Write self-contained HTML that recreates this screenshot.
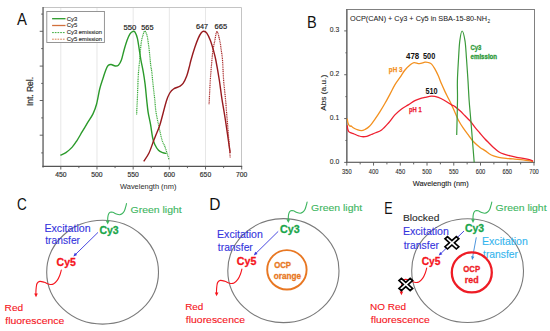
<!DOCTYPE html>
<html><head><meta charset="utf-8">
<style>
html,body{margin:0;padding:0;background:#fff;width:550px;height:331px;overflow:hidden}
svg{display:block}
text{font-family:"Liberation Sans",sans-serif}
</style></head>
<body>
<svg width="550" height="331" viewBox="0 0 550 331">
<rect width="550" height="331" fill="#fff"/>
<text transform="translate(17.20,24.80) scale(0.940,1)" x="-0.10" y="0" font-size="15.8" fill="#111">A</text>
<g stroke="#e4e4e4" stroke-width="0.9">
<line x1="60.80" y1="7.3" x2="60.80" y2="166.3"/>
<line x1="96.98" y1="7.3" x2="96.98" y2="166.3"/>
<line x1="133.16" y1="7.3" x2="133.16" y2="166.3"/>
<line x1="169.34" y1="7.3" x2="169.34" y2="166.3"/>
<line x1="205.52" y1="7.3" x2="205.52" y2="166.3"/>
</g>
<line x1="43" y1="7.5" x2="241.5" y2="7.5" stroke="#c4c4c4" stroke-width="1"/>
<line x1="241.5" y1="7.5" x2="241.5" y2="166.3" stroke="#c4c4c4" stroke-width="1"/>
<line x1="43.05" y1="6.9" x2="43.05" y2="167.5" stroke="#666" stroke-width="1.4"/>
<line x1="42.4" y1="166.3" x2="242.2" y2="166.3" stroke="#555" stroke-width="1.3"/>
<g stroke="#555" stroke-width="0.9">
<line x1="39.7" y1="31.3" x2="43" y2="31.3"/>
<line x1="39.7" y1="66.1" x2="43" y2="66.1"/>
<line x1="39.7" y1="100.5" x2="43" y2="100.5"/>
<line x1="39.7" y1="135.2" x2="43" y2="135.2"/>
<line x1="41.2" y1="14.1" x2="43" y2="14.1"/>
<line x1="41.2" y1="48.6" x2="43" y2="48.6"/>
<line x1="41.2" y1="83.4" x2="43" y2="83.4"/>
<line x1="41.2" y1="117.9" x2="43" y2="117.9"/>
<line x1="41.2" y1="152.9" x2="43" y2="152.9"/>
<line x1="60.80" y1="166.3" x2="60.80" y2="169.5"/>
<line x1="96.98" y1="166.3" x2="96.98" y2="169.5"/>
<line x1="133.16" y1="166.3" x2="133.16" y2="169.5"/>
<line x1="169.34" y1="166.3" x2="169.34" y2="169.5"/>
<line x1="205.52" y1="166.3" x2="205.52" y2="169.5"/>
<line x1="241.70" y1="166.3" x2="241.70" y2="169.5"/>
<line x1="78.89" y1="166.3" x2="78.89" y2="168.1"/>
<line x1="115.07" y1="166.3" x2="115.07" y2="168.1"/>
<line x1="151.25" y1="166.3" x2="151.25" y2="168.1"/>
<line x1="187.43" y1="166.3" x2="187.43" y2="168.1"/>
<line x1="223.61" y1="166.3" x2="223.61" y2="168.1"/>
</g>
<g font-size="7.2" fill="#333" stroke="#333" stroke-width="0.2" text-anchor="middle">
<text x="60.80" y="177.1" textLength="11.3" lengthAdjust="spacingAndGlyphs">450</text>
<text x="96.98" y="177.1" textLength="11.3" lengthAdjust="spacingAndGlyphs">500</text>
<text x="133.16" y="177.1" textLength="11.3" lengthAdjust="spacingAndGlyphs">550</text>
<text x="169.34" y="177.1" textLength="11.3" lengthAdjust="spacingAndGlyphs">600</text>
<text x="205.52" y="177.1" textLength="11.3" lengthAdjust="spacingAndGlyphs">650</text>
<text x="241.70" y="177.1" textLength="11.3" lengthAdjust="spacingAndGlyphs">700</text>
</g>
<text x="120" y="188.5" font-size="7.9" fill="#333" stroke="#333" stroke-width="0.05" textLength="56.4" lengthAdjust="spacingAndGlyphs">Wavelength (nm)</text>
<text transform="translate(33.2,106.0) rotate(-90)" font-size="8.9" fill="#333" stroke="#333" stroke-width="0.25" textLength="29" lengthAdjust="spacingAndGlyphs">Int. Rel.</text>
<rect x="46.8" y="11.5" width="57.6" height="31" fill="#fff" stroke="#8a8a8a" stroke-width="0.9"/>
<line x1="52.1" y1="18.7" x2="65.5" y2="18.7" stroke="#2b9a2b" stroke-width="1.3"/>
<line x1="52.1" y1="25.5" x2="65.5" y2="25.5" stroke="#d2703c" stroke-width="1.3"/>
<line x1="52.1" y1="32.6" x2="65.5" y2="32.6" stroke="#3aaa3a" stroke-width="1" stroke-dasharray="1.7,1"/>
<line x1="52.1" y1="39.2" x2="65.5" y2="39.2" stroke="#d88050" stroke-width="1" stroke-dasharray="1.7,1"/>
<g font-size="5.9" fill="#333" stroke="#333" stroke-width="0.15">
<text x="66.8" y="20.7" textLength="10.4" lengthAdjust="spacingAndGlyphs">Cy3</text>
<text x="66.8" y="27.3" textLength="10.4" lengthAdjust="spacingAndGlyphs">Cy5</text>
<text x="66.8" y="34.1" textLength="35.1" lengthAdjust="spacingAndGlyphs">Cy3 emission</text>
<text x="66.8" y="40.9" textLength="35.1" lengthAdjust="spacingAndGlyphs">Cy5 emission</text>
</g>
<g font-size="8" fill="#222" stroke="#222" stroke-width="0.2">
<text x="123.4" y="29.9" textLength="12.8" lengthAdjust="spacingAndGlyphs">550</text>
<text x="141.3" y="29.9" textLength="12.2" lengthAdjust="spacingAndGlyphs">565</text>
<text x="195.9" y="29.3" textLength="12.2" lengthAdjust="spacingAndGlyphs">647</text>
<text x="214.6" y="29.3" textLength="12.5" lengthAdjust="spacingAndGlyphs">665</text>
</g>
<path fill="none" stroke="#2b9a2b" stroke-width="1.4" stroke-linejoin="round" d="M60.40,155.30 C61.32,154.85 63.93,153.97 65.90,152.60 C67.87,151.23 70.38,149.07 72.20,147.10 C74.02,145.13 75.13,143.37 76.80,140.80 C78.47,138.23 80.40,134.72 82.20,131.70 C84.00,128.68 85.78,125.72 87.60,122.70 C89.42,119.68 91.60,116.72 93.10,113.60 C94.60,110.48 95.50,108.10 96.60,104.00 C97.70,99.90 98.68,93.12 99.70,89.00 C100.72,84.88 101.70,82.42 102.70,79.30 C103.70,76.18 104.80,72.58 105.70,70.30 C106.60,68.02 107.20,66.57 108.10,65.60 C109.00,64.63 109.92,64.43 111.10,64.50 C112.28,64.57 113.98,65.88 115.20,66.00 C116.42,66.12 117.37,66.20 118.40,65.20 C119.43,64.20 120.47,62.50 121.40,60.00 C122.33,57.50 123.07,53.45 124.00,50.20 C124.93,46.95 126.00,43.22 127.00,40.50 C128.00,37.78 128.98,35.43 130.00,33.90 C131.02,32.37 132.27,31.60 133.10,31.30 C133.93,31.00 134.28,30.93 135.00,32.10 C135.72,33.27 136.70,35.45 137.40,38.30 C138.10,41.15 138.62,45.58 139.20,49.20 C139.78,52.82 140.22,56.18 140.90,60.00 C141.58,63.82 142.60,68.07 143.30,72.10 C144.00,76.13 144.53,79.55 145.10,84.20 C145.67,88.85 146.20,95.35 146.70,100.00 C147.20,104.65 147.47,108.07 148.10,112.10 C148.73,116.13 149.73,119.88 150.50,124.20 C151.27,128.52 151.98,134.62 152.70,138.00 C153.42,141.38 153.83,142.45 154.80,144.50 C155.77,146.55 157.18,148.95 158.50,150.30 C159.82,151.65 161.38,152.07 162.70,152.60 C164.02,153.13 165.78,153.35 166.40,153.50"/>
<path fill="none" stroke="#3aaa3a" stroke-width="1.2" stroke-dasharray="1.1,0.7" d="M136.60,114.50 C136.72,112.08 137.08,105.05 137.30,100.00 C137.52,94.95 137.70,88.85 137.90,84.20 C138.10,79.55 138.20,76.13 138.50,72.10 C138.80,68.07 139.28,64.63 139.70,60.00 C140.12,55.37 140.57,48.03 141.00,44.30 C141.43,40.57 141.68,39.82 142.30,37.60 C142.92,35.38 143.90,31.28 144.70,31.00 C145.50,30.72 146.50,33.88 147.10,35.90 C147.70,37.92 147.90,40.28 148.30,43.10 C148.70,45.92 149.10,49.15 149.50,52.80 C149.90,56.45 150.32,61.78 150.70,65.00 C151.08,68.22 151.42,68.90 151.80,72.10 C152.18,75.30 152.50,79.55 153.00,84.20 C153.50,88.85 154.30,95.35 154.80,100.00 C155.30,104.65 155.40,108.07 156.00,112.10 C156.60,116.13 157.40,119.55 158.40,124.20 C159.40,128.85 160.92,136.27 162.00,140.00 C163.08,143.73 163.72,143.30 164.90,146.60 C166.08,149.90 168.40,157.60 169.10,159.80"/>
<path fill="none" stroke="#971a1e" stroke-width="1.4" stroke-linejoin="round" d="M143.70,161.40 C144.58,160.00 147.38,156.35 149.00,153.00 C150.62,149.65 152.25,144.30 153.40,141.30 C154.55,138.30 154.80,137.80 155.90,135.00 C157.00,132.20 158.25,130.17 160.00,124.50 C161.75,118.83 164.77,106.25 166.40,101.00 C168.03,95.75 168.62,95.00 169.80,93.00 C170.98,91.00 171.88,90.10 173.50,89.00 C175.12,87.90 177.90,87.33 179.50,86.40 C181.10,85.47 181.88,85.18 183.10,83.40 C184.32,81.62 185.78,78.38 186.80,75.70 C187.82,73.02 188.50,69.92 189.20,67.30 C189.90,64.68 190.08,63.25 191.00,60.00 C191.92,56.75 193.48,51.45 194.70,47.80 C195.92,44.15 197.20,40.62 198.30,38.10 C199.40,35.58 200.40,33.83 201.30,32.70 C202.20,31.57 202.78,31.23 203.70,31.30 C204.62,31.37 205.68,31.57 206.80,33.10 C207.92,34.63 209.30,37.65 210.40,40.50 C211.50,43.35 212.50,46.95 213.40,50.20 C214.30,53.45 214.82,55.03 215.80,60.00 C216.78,64.97 218.30,73.65 219.30,80.00 C220.30,86.35 220.78,91.43 221.80,98.10 C222.82,104.77 224.00,110.88 225.40,120.00 C226.80,129.12 229.40,147.33 230.20,152.80"/>
<path fill="none" stroke="#a82828" stroke-width="1.2" stroke-dasharray="1.1,0.7" d="M209.10,104.20 C209.30,100.17 209.80,87.68 210.30,80.00 C210.80,72.32 211.65,63.10 212.10,58.10 C212.55,53.10 212.58,52.72 213.00,50.00 C213.42,47.28 213.93,44.88 214.60,41.80 C215.27,38.72 216.10,31.50 217.00,31.50 C217.90,31.50 219.30,38.72 220.00,41.80 C220.70,44.88 220.78,46.97 221.20,50.00 C221.62,53.03 222.10,55.00 222.50,60.00 C222.90,65.00 223.12,73.65 223.60,80.00 C224.08,86.35 224.80,91.43 225.40,98.10 C226.00,104.77 226.40,110.10 227.20,120.00 C228.00,129.90 229.70,151.25 230.20,157.50"/>
<text transform="translate(308.20,27.70) scale(0.920,1)" x="-1.30" y="0" font-size="15.8" fill="#111">B</text>
<rect x="346.8" y="9.5" width="187.7" height="152.9" fill="none" stroke="#808080" stroke-width="1"/>
<line x1="346.8" y1="9.0" x2="346.8" y2="162.9" stroke="#6e6e6e" stroke-width="1.4"/>
<line x1="346.3" y1="162.4" x2="534.5" y2="162.4" stroke="#6e6e6e" stroke-width="1.4"/>
<g stroke="#555" stroke-width="0.9">
<line x1="344.2" y1="162.40" x2="346.8" y2="162.40"/>
<line x1="344.2" y1="118.57" x2="346.8" y2="118.57"/>
<line x1="344.2" y1="74.73" x2="346.8" y2="74.73"/>
<line x1="344.2" y1="30.90" x2="346.8" y2="30.90"/>
<line x1="345.4" y1="140.48" x2="346.8" y2="140.48"/>
<line x1="345.4" y1="96.65" x2="346.8" y2="96.65"/>
<line x1="345.4" y1="52.82" x2="346.8" y2="52.82"/>
<line x1="346.80" y1="162.4" x2="346.80" y2="165.6"/>
<line x1="373.54" y1="162.4" x2="373.54" y2="165.6"/>
<line x1="400.29" y1="162.4" x2="400.29" y2="165.6"/>
<line x1="427.03" y1="162.4" x2="427.03" y2="165.6"/>
<line x1="453.77" y1="162.4" x2="453.77" y2="165.6"/>
<line x1="480.51" y1="162.4" x2="480.51" y2="165.6"/>
<line x1="507.26" y1="162.4" x2="507.26" y2="165.6"/>
<line x1="534.00" y1="162.4" x2="534.00" y2="165.6"/>
<line x1="360.17" y1="162.4" x2="360.17" y2="164.4"/>
<line x1="386.91" y1="162.4" x2="386.91" y2="164.4"/>
<line x1="413.66" y1="162.4" x2="413.66" y2="164.4"/>
<line x1="440.40" y1="162.4" x2="440.40" y2="164.4"/>
<line x1="467.14" y1="162.4" x2="467.14" y2="164.4"/>
<line x1="493.89" y1="162.4" x2="493.89" y2="164.4"/>
<line x1="520.63" y1="162.4" x2="520.63" y2="164.4"/>
</g>
<g font-size="7" fill="#2a2a2a" stroke="#2a2a2a" stroke-width="0.1" text-anchor="middle">
<text x="346.80" y="173.6" textLength="9.6" lengthAdjust="spacingAndGlyphs">350</text>
<text x="373.54" y="173.6" textLength="9.6" lengthAdjust="spacingAndGlyphs">400</text>
<text x="400.29" y="173.6" textLength="9.6" lengthAdjust="spacingAndGlyphs">450</text>
<text x="427.03" y="173.6" textLength="9.6" lengthAdjust="spacingAndGlyphs">500</text>
<text x="453.77" y="173.6" textLength="9.6" lengthAdjust="spacingAndGlyphs">550</text>
<text x="480.51" y="173.6" textLength="9.6" lengthAdjust="spacingAndGlyphs">600</text>
<text x="507.26" y="173.6" textLength="9.6" lengthAdjust="spacingAndGlyphs">650</text>
<text x="534.00" y="173.6" textLength="9.6" lengthAdjust="spacingAndGlyphs">700</text>
</g>
<g font-size="7" fill="#2a2a2a" stroke="#2a2a2a" stroke-width="0.1">
<text x="329.8" y="163.90" textLength="9.4" lengthAdjust="spacingAndGlyphs">0.0</text>
<text x="329.8" y="120.07" textLength="9.4" lengthAdjust="spacingAndGlyphs">0.1</text>
<text x="329.8" y="76.23" textLength="9.4" lengthAdjust="spacingAndGlyphs">0.2</text>
<text x="329.8" y="32.40" textLength="9.4" lengthAdjust="spacingAndGlyphs">0.3</text>
</g>
<text x="412.7" y="186.2" font-size="7.9" fill="#222" stroke="#222" stroke-width="0.12" textLength="56" lengthAdjust="spacingAndGlyphs">Wavelength (nm)</text>
<text transform="translate(325.8,110.8) rotate(-90)" font-size="6.7" fill="#222" stroke="#222" stroke-width="0.1" textLength="36" lengthAdjust="spacingAndGlyphs">Abs (a.u.)</text>
<text x="350" y="20.8" font-size="7.8" fill="#222" stroke="#222" stroke-width="0.05" textLength="137" lengthAdjust="spacingAndGlyphs">OCP(CAN) + Cy3 + Cy5 in SBA-15-80-NH</text>
<text x="487.6" y="22.8" font-size="4.8" fill="#222">2</text>
<g font-size="8.3" font-weight="bold" fill="#111">
<text x="406" y="59.3" textLength="13.2" lengthAdjust="spacingAndGlyphs">478</text>
<text x="423" y="58.9" textLength="12.2" lengthAdjust="spacingAndGlyphs">500</text>
<text x="425.4" y="94.4" textLength="12.1" lengthAdjust="spacingAndGlyphs">510</text>
</g>
<text x="388.79" y="72.00" font-size="7.40" font-weight="bold" fill="#f3901e" textLength="13.64" lengthAdjust="spacingAndGlyphs" stroke="#f3901e" stroke-width="0.25">pH 3</text>
<text x="409.02" y="111.80" font-size="7.40" font-weight="bold" fill="#ee2030" textLength="12.64" lengthAdjust="spacingAndGlyphs" stroke="#ee2030" stroke-width="0.25">pH 1</text>
<text x="470.56" y="49.90" font-size="7.40" font-weight="bold" fill="#2e9a3a" textLength="10.84" lengthAdjust="spacingAndGlyphs" stroke="#2e9a3a" stroke-width="0.30">Cy3</text>
<text x="470.56" y="59.30" font-size="6.80" font-weight="bold" fill="#2e9a3a" textLength="26.51" lengthAdjust="spacingAndGlyphs" stroke="#2e9a3a" stroke-width="0.30">emission</text>
<path fill="none" stroke="#f3901e" stroke-width="1.3" stroke-linejoin="round" d="M347.30,118.60 C347.37,119.13 347.48,120.82 347.70,121.80 C347.92,122.78 348.22,123.75 348.60,124.50 C348.98,125.25 349.62,126.07 350.00,126.30 C350.38,126.53 350.37,125.67 350.90,125.90 C351.43,126.13 352.22,127.10 353.20,127.70 C354.18,128.30 355.45,129.00 356.80,129.50 C358.15,130.00 359.93,130.70 361.30,130.70 C362.67,130.70 363.63,130.23 365.00,129.50 C366.37,128.77 367.83,128.03 369.50,126.30 C371.17,124.57 373.25,121.55 375.00,119.10 C376.75,116.65 378.33,114.23 380.00,111.60 C381.67,108.97 383.33,106.22 385.00,103.30 C386.67,100.38 388.33,97.22 390.00,94.10 C391.67,90.98 393.33,87.38 395.00,84.60 C396.67,81.82 398.33,79.83 400.00,77.40 C401.67,74.97 403.33,72.07 405.00,70.00 C406.67,67.93 408.50,66.23 410.00,65.00 C411.50,63.77 412.42,62.83 414.00,62.60 C415.58,62.37 417.67,63.67 419.50,63.60 C421.33,63.53 423.53,62.38 425.00,62.20 C426.47,62.02 427.20,62.18 428.30,62.50 C429.40,62.82 430.48,63.00 431.60,64.10 C432.72,65.20 433.88,67.15 435.00,69.10 C436.12,71.05 437.20,73.30 438.30,75.80 C439.40,78.30 440.48,81.47 441.60,84.10 C442.72,86.73 443.88,89.25 445.00,91.60 C446.12,93.95 447.20,95.98 448.30,98.20 C449.40,100.42 450.48,102.52 451.60,104.90 C452.72,107.28 453.88,109.98 455.00,112.50 C456.12,115.02 456.92,117.38 458.30,120.00 C459.68,122.62 461.63,125.72 463.30,128.20 C464.97,130.68 466.63,132.68 468.30,134.90 C469.97,137.12 471.35,139.42 473.30,141.50 C475.25,143.58 478.05,145.88 480.00,147.40 C481.95,148.92 483.47,149.53 485.00,150.60 C486.53,151.67 487.78,152.92 489.20,153.80 C490.62,154.68 491.92,155.32 493.50,155.90 C495.08,156.48 496.60,156.90 498.70,157.30 C500.80,157.70 503.45,158.00 506.10,158.30 C508.75,158.60 511.77,158.85 514.60,159.10 C517.43,159.35 520.02,159.40 523.10,159.80 C526.18,160.20 531.43,161.22 533.10,161.50"/>
<path fill="none" stroke="#ee2030" stroke-width="1.3" stroke-linejoin="round" d="M347.30,125.40 C347.37,126.00 347.48,128.02 347.70,129.00 C347.92,129.98 348.15,130.68 348.60,131.30 C349.05,131.92 349.48,132.25 350.40,132.70 C351.32,133.15 352.73,133.48 354.10,134.00 C355.47,134.52 357.25,135.35 358.60,135.80 C359.95,136.25 360.83,136.62 362.20,136.70 C363.57,136.78 365.28,136.67 366.80,136.30 C368.32,135.93 369.93,135.05 371.30,134.50 C372.67,133.95 373.28,133.77 375.00,133.00 C376.72,132.23 379.38,131.53 381.60,129.90 C383.82,128.27 386.08,125.70 388.30,123.20 C390.52,120.70 392.68,117.27 394.90,114.90 C397.12,112.53 399.37,110.67 401.60,109.00 C403.83,107.33 406.08,106.28 408.30,104.90 C410.52,103.52 412.68,101.82 414.90,100.70 C417.12,99.58 419.92,98.75 421.60,98.20 C423.28,97.65 423.33,97.73 425.00,97.40 C426.67,97.07 429.38,96.20 431.60,96.20 C433.82,96.20 436.07,96.65 438.30,97.40 C440.53,98.15 442.78,99.45 445.00,100.70 C447.22,101.95 449.93,103.92 451.60,104.90 C453.27,105.88 453.60,105.62 455.00,106.60 C456.40,107.58 458.33,109.27 460.00,110.80 C461.67,112.33 463.33,114.13 465.00,115.80 C466.67,117.47 468.33,118.87 470.00,120.80 C471.67,122.73 473.33,125.33 475.00,127.40 C476.67,129.47 478.33,131.27 480.00,133.20 C481.67,135.13 483.47,137.33 485.00,139.00 C486.53,140.67 487.78,141.80 489.20,143.20 C490.62,144.60 491.92,145.98 493.50,147.40 C495.08,148.82 496.95,150.58 498.70,151.70 C500.45,152.82 502.05,153.40 504.00,154.10 C505.95,154.80 508.28,155.37 510.40,155.90 C512.52,156.43 514.58,156.90 516.70,157.30 C518.82,157.70 520.98,157.92 523.10,158.30 C525.22,158.68 527.73,159.12 529.40,159.60 C531.07,160.08 532.48,160.93 533.10,161.20"/>
<path fill="none" stroke="#3a9a3a" stroke-width="1.2" stroke-linejoin="round" d="M456.70,135.10 C456.83,129.25 457.38,109.03 457.50,100.00 C457.62,90.97 457.22,88.00 457.40,80.90 C457.58,73.80 458.20,64.07 458.60,57.40 C459.00,50.73 459.22,45.30 459.80,40.90 C460.38,36.50 461.23,31.00 462.10,31.00 C462.97,31.00 464.28,36.50 465.00,40.90 C465.72,45.30 465.90,50.73 466.40,57.40 C466.90,64.07 467.55,73.80 468.00,80.90 C468.45,88.00 468.63,93.48 469.10,100.00 C469.57,106.52 470.25,113.35 470.80,120.00 C471.35,126.65 471.83,132.83 472.40,139.90 C472.97,146.97 473.90,158.65 474.20,162.40"/>
<text transform="translate(17.80,210.10) scale(0.860,1)" x="-0.80" y="0" font-size="15.8" fill="#111">C</text>
<ellipse cx="102.6" cy="272.2" rx="55.9" ry="51.9" fill="none" stroke="#7a7a7a" stroke-width="1.1"/>
<text x="130.58" y="213.00" font-size="9.90" fill="#3cb55e" textLength="51.09" lengthAdjust="spacingAndGlyphs" stroke="#3cb55e" stroke-width="0.12">Green light</text>
<path fill="none" stroke="#3cb55e" stroke-width="1.1" stroke-linecap="round" d="M126.50,203.60 C126.35,204.20 125.98,205.92 125.60,207.20 C125.22,208.48 124.80,210.20 124.20,211.30 C123.60,212.40 122.77,213.23 122.00,213.80 C121.23,214.37 120.53,214.67 119.60,214.70 C118.67,214.73 117.53,214.40 116.40,214.00 C115.27,213.60 113.83,212.58 112.80,212.30 C111.77,212.02 110.90,212.02 110.20,212.30 C109.50,212.58 109.00,213.15 108.60,214.00 C108.20,214.85 107.95,216.13 107.80,217.40 C107.65,218.67 107.72,220.90 107.70,221.60"/><path d="M107.70,224.60 L105.80,220.80 L109.60,220.80 Z" fill="#3cb55e"/>
<text x="99.38" y="233.60" font-size="11.00" font-weight="bold" fill="#1aa64a" textLength="19.28" lengthAdjust="spacingAndGlyphs" stroke="#1aa64a" stroke-width="0.30">Cy3</text>
<text x="44.45" y="231.50" font-size="10.20" fill="#3535dd" textLength="46.15" lengthAdjust="spacingAndGlyphs" stroke="#3535dd" stroke-width="0.12">Excitation</text>
<text x="45.25" y="244.40" font-size="10.20" fill="#3535dd" textLength="34.76" lengthAdjust="spacingAndGlyphs" stroke="#3535dd" stroke-width="0.12">transfer</text>
<line x1="98.00" y1="232.40" x2="75.61" y2="254.33" stroke="#3535dd" stroke-width="0.90"/><path d="M73.40,256.50 L74.85,252.84 L77.09,255.12 Z" fill="#3535dd"/>
<text x="56.58" y="266.00" font-size="11.00" font-weight="bold" fill="#f5141c" textLength="19.28" lengthAdjust="spacingAndGlyphs" stroke="#f5141c" stroke-width="0.30">Cy5</text>
<path fill="none" stroke="#f5141c" stroke-width="1.1" stroke-linecap="round" d="M61.30,270.10 C61.05,270.95 60.48,273.48 59.80,275.20 C59.12,276.92 58.27,278.93 57.20,280.40 C56.13,281.87 54.73,283.35 53.40,284.00 C52.07,284.65 50.72,284.58 49.20,284.30 C47.68,284.02 45.87,282.78 44.30,282.30 C42.73,281.82 41.00,281.22 39.80,281.40 C38.60,281.58 37.70,282.37 37.10,283.40 C36.50,284.43 36.40,286.12 36.20,287.60 C36.00,289.08 35.93,291.15 35.90,292.30 C35.87,293.45 35.98,294.13 36.00,294.50"/><path d="M36.00,297.30 L34.20,293.50 L37.80,293.50 Z" fill="#f5141c"/>
<text x="4.59" y="311.00" font-size="9.90" fill="#f5141c" textLength="18.56" lengthAdjust="spacingAndGlyphs" stroke="#f5141c" stroke-width="0.12">Red</text>
<text x="5.24" y="324.40" font-size="9.90" fill="#f5141c" textLength="59.13" lengthAdjust="spacingAndGlyphs" stroke="#f5141c" stroke-width="0.12">fluorescence</text>
<text transform="translate(210.40,210.00) scale(0.980,1)" x="-1.30" y="0" font-size="15.8" fill="#111">D</text>
<ellipse cx="283.4" cy="270.65" rx="55.6" ry="52.0" fill="none" stroke="#7a7a7a" stroke-width="1.1"/>
<text x="311.08" y="211.30" font-size="9.90" fill="#3cb55e" textLength="51.09" lengthAdjust="spacingAndGlyphs" stroke="#3cb55e" stroke-width="0.12">Green light</text>
<path fill="none" stroke="#3cb55e" stroke-width="1.1" stroke-linecap="round" d="M307.10,202.10 C306.95,202.70 306.58,204.42 306.20,205.70 C305.82,206.98 305.40,208.70 304.80,209.80 C304.20,210.90 303.37,211.73 302.60,212.30 C301.83,212.87 301.13,213.17 300.20,213.20 C299.27,213.23 298.13,212.90 297.00,212.50 C295.87,212.10 294.43,211.08 293.40,210.80 C292.37,210.52 291.50,210.52 290.80,210.80 C290.10,211.08 289.60,211.65 289.20,212.50 C288.80,213.35 288.55,214.63 288.40,215.90 C288.25,217.17 288.32,219.40 288.30,220.10"/><path d="M288.30,223.10 L286.40,219.30 L290.20,219.30 Z" fill="#3cb55e"/>
<text x="279.97" y="232.80" font-size="11.00" font-weight="bold" fill="#1aa64a" textLength="19.70" lengthAdjust="spacingAndGlyphs" stroke="#1aa64a" stroke-width="0.30">Cy3</text>
<text x="217.05" y="237.70" font-size="10.20" fill="#3535dd" textLength="45.84" lengthAdjust="spacingAndGlyphs" stroke="#3535dd" stroke-width="0.12">Excitation</text>
<text x="217.85" y="250.60" font-size="10.20" fill="#3535dd" textLength="34.96" lengthAdjust="spacingAndGlyphs" stroke="#3535dd" stroke-width="0.12">transfer</text>
<line x1="278.20" y1="231.40" x2="256.01" y2="253.23" stroke="#3535dd" stroke-width="0.90"/><path d="M253.80,255.40 L255.24,251.73 L257.49,254.02 Z" fill="#3535dd"/>
<text x="236.77" y="264.80" font-size="11.00" font-weight="bold" fill="#f5141c" textLength="19.59" lengthAdjust="spacingAndGlyphs" stroke="#f5141c" stroke-width="0.30">Cy5</text>
<path fill="none" stroke="#f5141c" stroke-width="1.1" stroke-linecap="round" d="M241.90,269.10 C241.65,269.95 241.08,272.48 240.40,274.20 C239.72,275.92 238.87,277.93 237.80,279.40 C236.73,280.87 235.33,282.35 234.00,283.00 C232.67,283.65 231.32,283.58 229.80,283.30 C228.28,283.02 226.47,281.78 224.90,281.30 C223.33,280.82 221.60,280.22 220.40,280.40 C219.20,280.58 218.30,281.37 217.70,282.40 C217.10,283.43 217.00,285.12 216.80,286.60 C216.60,288.08 216.53,290.15 216.50,291.30 C216.47,292.45 216.58,293.13 216.60,293.50"/><path d="M216.60,296.30 L214.80,292.50 L218.40,292.50 Z" fill="#f5141c"/>
<text x="185.21" y="309.60" font-size="9.90" fill="#f5141c" textLength="18.13" lengthAdjust="spacingAndGlyphs" stroke="#f5141c" stroke-width="0.12">Red</text>
<text x="185.84" y="322.70" font-size="9.90" fill="#f5141c" textLength="59.13" lengthAdjust="spacingAndGlyphs" stroke="#f5141c" stroke-width="0.12">fluorescence</text>
<circle cx="286.9" cy="269.8" r="19.7" fill="none" stroke="#e87722" stroke-width="1.9"/>
<text x="274.19" y="268.10" font-size="8.70" font-weight="bold" fill="#e87722" textLength="16.86" lengthAdjust="spacingAndGlyphs" stroke="#e87722" stroke-width="0.30">OCP</text>
<text x="273.77" y="279.00" font-size="8.70" font-weight="bold" fill="#e87722" textLength="27.31" lengthAdjust="spacingAndGlyphs" stroke="#e87722" stroke-width="0.30">orange</text>
<text transform="translate(385.20,213.70) scale(0.790,1)" x="-1.30" y="0" font-size="15.8" fill="#111">E</text>
<ellipse cx="467.6" cy="270.65" rx="55.9" ry="51.9" fill="none" stroke="#7a7a7a" stroke-width="1.1"/>
<text x="402.98" y="221.40" font-size="9.90" fill="#2a2a2a" textLength="36.41" lengthAdjust="spacingAndGlyphs" stroke="#2a2a2a" stroke-width="0.12">Blocked</text>
<text x="402.95" y="235.10" font-size="10.20" fill="#3535dd" textLength="45.94" lengthAdjust="spacingAndGlyphs" stroke="#3535dd" stroke-width="0.12">Excitation</text>
<text x="403.74" y="248.70" font-size="10.20" fill="#3535dd" textLength="35.17" lengthAdjust="spacingAndGlyphs" stroke="#3535dd" stroke-width="0.12">transfer</text>
<text x="495.58" y="211.30" font-size="9.90" fill="#3cb55e" textLength="50.99" lengthAdjust="spacingAndGlyphs" stroke="#3cb55e" stroke-width="0.12">Green light</text>
<path fill="none" stroke="#3cb55e" stroke-width="1.1" stroke-linecap="round" d="M491.80,202.10 C491.65,202.70 491.28,204.42 490.90,205.70 C490.52,206.98 490.10,208.70 489.50,209.80 C488.90,210.90 488.07,211.73 487.30,212.30 C486.53,212.87 485.83,213.17 484.90,213.20 C483.97,213.23 482.83,212.90 481.70,212.50 C480.57,212.10 479.13,211.08 478.10,210.80 C477.07,210.52 476.20,210.52 475.50,210.80 C474.80,211.08 474.30,211.65 473.90,212.50 C473.50,213.35 473.25,214.63 473.10,215.90 C472.95,217.17 473.02,219.40 473.00,220.10"/><path d="M473.00,223.10 L471.10,219.30 L474.90,219.30 Z" fill="#3cb55e"/>
<text x="464.98" y="232.40" font-size="11.00" font-weight="bold" fill="#1aa64a" textLength="19.18" lengthAdjust="spacingAndGlyphs" stroke="#1aa64a" stroke-width="0.30">Cy3</text>
<line x1="464.00" y1="231.00" x2="440.92" y2="253.44" stroke="#3535dd" stroke-width="0.90"/><path d="M438.70,255.60 L440.17,251.94 L442.40,254.24 Z" fill="#3535dd"/>
<line x1="476.30" y1="237.30" x2="472.67" y2="256.85" stroke="#3a8ad8" stroke-width="0.90"/><path d="M472.10,259.90 L471.18,256.07 L474.33,256.65 Z" fill="#3a8ad8"/>
<text x="482.06" y="245.00" font-size="10.20" fill="#35b5ee" textLength="45.74" lengthAdjust="spacingAndGlyphs" stroke="#35b5ee" stroke-width="0.12">Excitation</text>
<text x="483.05" y="258.40" font-size="10.20" fill="#35b5ee" textLength="34.96" lengthAdjust="spacingAndGlyphs" stroke="#35b5ee" stroke-width="0.12">transfer</text>
<circle cx="471.8" cy="272.45" r="20.0" fill="none" stroke="#ee1c25" stroke-width="2.3"/>
<text x="463.29" y="272.20" font-size="8.70" font-weight="bold" fill="#ee1c25" textLength="16.86" lengthAdjust="spacingAndGlyphs" stroke="#ee1c25" stroke-width="0.30">OCP</text>
<text x="464.82" y="283.40" font-size="8.70" font-weight="bold" fill="#ee1c25" textLength="13.87" lengthAdjust="spacingAndGlyphs" stroke="#ee1c25" stroke-width="0.30">red</text>
<text x="421.69" y="265.20" font-size="11.00" font-weight="bold" fill="#f5141c" textLength="18.76" lengthAdjust="spacingAndGlyphs" stroke="#f5141c" stroke-width="0.30">Cy5</text>
<path fill="none" stroke="#f5141c" stroke-width="1.1" stroke-linecap="round" d="M426.70,268.10 C426.45,268.95 425.88,271.48 425.20,273.20 C424.52,274.92 423.67,276.93 422.60,278.40 C421.53,279.87 420.13,281.35 418.80,282.00 C417.47,282.65 416.12,282.58 414.60,282.30 C413.08,282.02 411.27,280.78 409.70,280.30 C408.13,279.82 406.40,279.22 405.20,279.40 C404.00,279.58 403.10,280.37 402.50,281.40 C401.90,282.43 401.80,284.12 401.60,285.60 C401.40,287.08 401.33,289.15 401.30,290.30 C401.27,291.45 401.38,292.13 401.40,292.50"/><path d="M401.40,295.30 L399.60,291.50 L403.20,291.50 Z" fill="#f5141c"/>
<text x="370.10" y="309.90" font-size="9.90" fill="#f5141c" textLength="35.97" lengthAdjust="spacingAndGlyphs" stroke="#f5141c" stroke-width="0.12">NO Red</text>
<text x="370.74" y="323.00" font-size="9.90" fill="#f5141c" textLength="59.13" lengthAdjust="spacingAndGlyphs" stroke="#f5141c" stroke-width="0.12">fluorescence</text>
<g transform="translate(451.9,242.8) scale(0.93,0.83) rotate(45)"><path d="M-1.9,-8.6 H1.9 V-1.9 H8.6 V1.9 H1.9 V8.6 H-1.9 V1.9 H-8.6 V-1.9 H-1.9 Z" fill="#fff" stroke="#000" stroke-width="1.9" stroke-linejoin="miter"/></g>
<g transform="translate(405.8,284.5) scale(0.92,0.83) rotate(45)"><path d="M-1.9,-8.6 H1.9 V-1.9 H8.6 V1.9 H1.9 V8.6 H-1.9 V1.9 H-8.6 V-1.9 H-1.9 Z" fill="#fff" stroke="#000" stroke-width="1.9" stroke-linejoin="miter"/></g>
</svg>
</body></html>
